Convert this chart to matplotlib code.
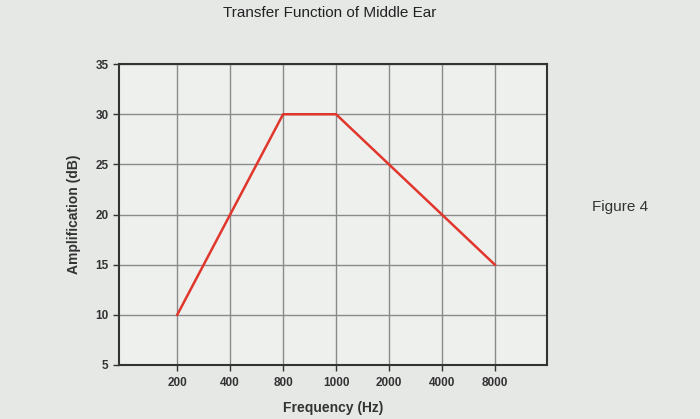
import matplotlib
matplotlib.use("Agg")
import matplotlib.pyplot as plt

plt.rcParams['font.family'] = ['Liberation Sans', 'DejaVu Sans']

categories = ["200", "400", "800", "1000", "2000", "4000", "8000"]
amplification = [10, 20, 30, 30, 25, 20, 15]
yticks = [5, 10, 15, 20, 25, 30, 35]

fig = plt.figure(figsize=(7, 4.19), dpi=100)
fig.patch.set_facecolor('#e6e8e6')
ax = fig.add_axes([0.170, 0.129, 0.611, 0.718])
ax.set_facecolor('#eef0ee')

x = list(range(len(categories)))
ax.plot(x, amplification, color='#e0362c', lw=1.8, zorder=3)

ax.set_xlim(-1.1, 6.98)
ax.set_ylim(5, 35)
ax.set_xticks(x)
ax.set_xticklabels(categories, fontsize=8.5, color='#333333', fontweight='bold')
ax.set_yticks(yticks)
ax.set_yticklabels([str(v) for v in yticks], fontsize=8.5, color='#333333', fontweight='bold')
ax.grid(True, color='#8a8a8a', lw=1.0)
ax.set_axisbelow(True)
for s in ax.spines.values():
    s.set_color('#333333')
    s.set_linewidth(1.5)
ax.tick_params(axis='both', length=4, color='#333333', width=1)
ax.tick_params(axis='x', pad=5)

ax.set_ylabel('Amplification (dB)', fontsize=10, color='#333333', labelpad=10, fontweight='bold')
ax.set_xlabel('Frequency (Hz)', fontsize=10, color='#333333', labelpad=8, fontweight='bold')
fig.text(0.471, 0.968, 'Transfer Function of Middle Ear', ha='center', va='center',
         fontsize=11, color='#222222')
fig.text(0.886, 0.506, 'Figure 4', ha='center', va='center', fontsize=11, color='#333333')

fig.savefig('out.png', dpi=100, facecolor=fig.get_facecolor())
